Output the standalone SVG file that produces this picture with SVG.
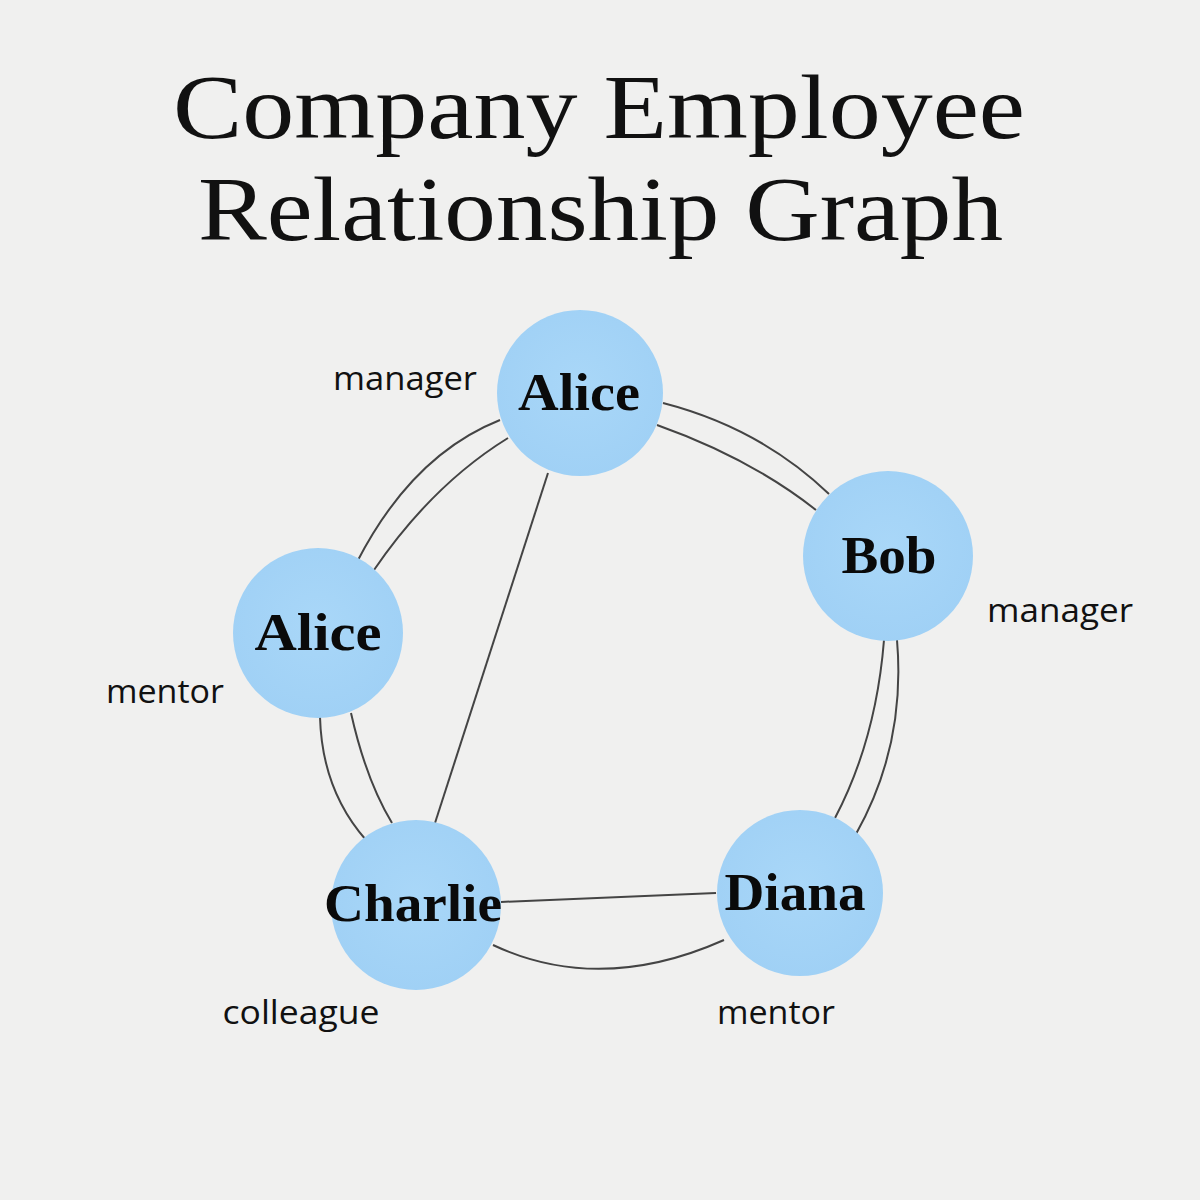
<svg xmlns="http://www.w3.org/2000/svg" width="1200" height="1200" viewBox="0 0 1200 1200">
<defs>
<radialGradient id="nodeFill" cx="50%" cy="45%" r="60%">
<stop offset="0%" stop-color="#a9d7f8"/>
<stop offset="100%" stop-color="#9fd0f5"/>
</radialGradient>
<style>
.title{font-family:"Liberation Serif","DejaVu Serif",serif;font-size:90px;fill:#111;}
.node circle{fill:url(#nodeFill);}
.node text{font-family:"Liberation Serif","DejaVu Serif",serif;font-weight:bold;font-size:52px;fill:#0a0a0a;text-anchor:middle;}
.edge{fill:none;stroke:#444;stroke-width:2;}
.lbl{font-family:"Open Sans","Liberation Sans",sans-serif;font-size:33px;fill:#111;text-anchor:middle;}
</style>
</defs>
<rect width="1200" height="1200" fill="#f0f0ef"/>
<g id="title">
<text class="title" x="173" y="138" textLength="852" lengthAdjust="spacingAndGlyphs">Company Employee</text>
<text class="title" x="198" y="240" textLength="805" lengthAdjust="spacingAndGlyphs">Relationship Graph</text>
</g>
<g id="connectors">
<path class="edge" d="M500,420 Q412,455 357,562"/>
<path class="edge" d="M508,438 Q432,485 374,570"/>
<path class="edge" d="M663,403 Q760,428 829,494"/>
<path class="edge" d="M657,425 Q750,458 816,510"/>
<path class="edge" d="M884,640 Q876,740 835,818"/>
<path class="edge" d="M897,640 Q906,745 856,834"/>
<path class="edge" d="M320,717 Q322,790 366,840"/>
<path class="edge" d="M351,713 Q366,780 392,823"/>
<path class="edge" d="M548,473 L435,823"/>
<path class="edge" d="M501,902 L716,893"/>
<path class="edge" d="M493,945 Q600,995 724,940"/>
</g>
<g id="node-alice-top" class="node">
<circle cx="580" cy="393" r="83"/>
<text x="579" y="410" textLength="122" lengthAdjust="spacingAndGlyphs">Alice</text>
</g>
<g id="node-bob" class="node">
<circle cx="888" cy="556" r="85"/>
<text x="889" y="573" textLength="95" lengthAdjust="spacingAndGlyphs">Bob</text>
</g>
<g id="node-alice-left" class="node">
<circle cx="318" cy="633" r="85"/>
<text x="318" y="650" textLength="127" lengthAdjust="spacingAndGlyphs">Alice</text>
</g>
<g id="node-charlie" class="node">
<circle cx="416" cy="905" r="85"/>
<text x="413" y="921" textLength="178" lengthAdjust="spacingAndGlyphs">Charlie</text>
</g>
<g id="node-diana" class="node">
<circle cx="800" cy="893" r="83"/>
<text x="795" y="910" textLength="141" lengthAdjust="spacingAndGlyphs">Diana</text>
</g>
<g id="labels">
<text class="lbl" x="405" y="390" textLength="144" lengthAdjust="spacingAndGlyphs">manager</text>
<text class="lbl" x="1060" y="622" textLength="146" lengthAdjust="spacingAndGlyphs">manager</text>
<text class="lbl" x="165" y="703" textLength="118" lengthAdjust="spacingAndGlyphs">mentor</text>
<text class="lbl" x="301" y="1024" textLength="157" lengthAdjust="spacingAndGlyphs">colleague</text>
<text class="lbl" x="776" y="1024" textLength="118" lengthAdjust="spacingAndGlyphs">mentor</text>
</g>
</svg>
